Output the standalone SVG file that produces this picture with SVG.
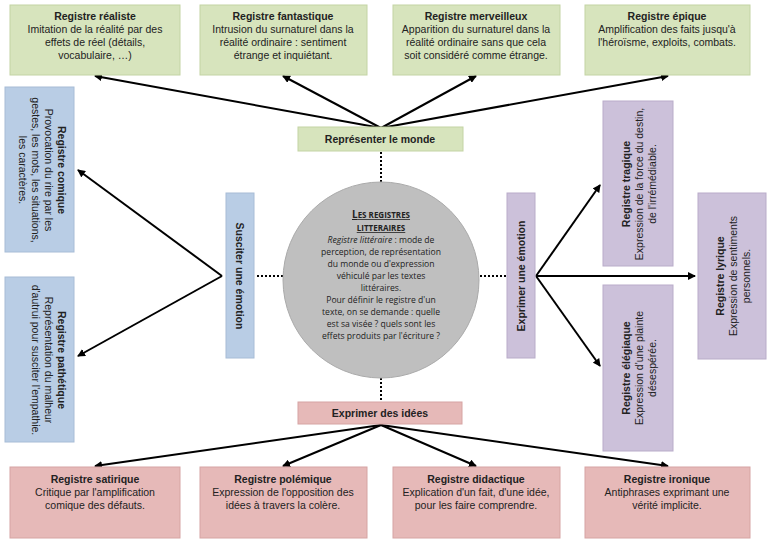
<svg xmlns="http://www.w3.org/2000/svg" width="768" height="543" viewBox="0 0 768 543">
<style>
.g{fill:#d7e4bd;stroke:#c3d4a4;stroke-width:1}
.b{fill:#b9cde5;stroke:#a7bcd6;stroke-width:1}
.p{fill:#ccc1da;stroke:#b9acc9;stroke-width:1}
.r{fill:#e6b9b8;stroke:#d6a4a3;stroke-width:1}
text{font-family:"Liberation Sans",Arial,sans-serif;font-size:10.5px;fill:#222;text-anchor:middle}
.t{font-weight:bold}
.c text{font-family:"Open Sans","Liberation Sans",sans-serif;font-size:8.6px}
.a{stroke:#000;stroke-width:2;fill:none;marker-end:url(#ah)}
.d{stroke:#000;stroke-width:2;stroke-dasharray:2 2;fill:none}
</style>
<defs><marker id="ah" markerWidth="8" markerHeight="8" refX="7" refY="4" orient="auto" markerUnits="userSpaceOnUse"><path d="M0,0L8,4L0,8z" fill="#000"/></marker></defs>
<rect width="768" height="543" fill="#fff"/>
<g id="connectors">
<path class="a" d="M381,128L95,76"/><path class="a" d="M381,128L283,76"/><path class="a" d="M381,128L476,76"/><path class="a" d="M381,128L668,76"/>
<path class="a" d="M222,276L78,170"/><path class="a" d="M222,276L78,356"/>
<path class="a" d="M536,276L600,185"/><path class="a" d="M536,276L695,276"/><path class="a" d="M536,276L600,366"/>
<path class="a" d="M381,425L95,466"/><path class="a" d="M381,425L283,466"/><path class="a" d="M381,425L476,466"/><path class="a" d="M381,425L668,466"/>
<path class="d" d="M381,182V152"/><path class="d" d="M283,276H255"/><path class="d" d="M480,276H507"/><path class="d" d="M381,378V403"/>
</g>
<g id="realiste"><rect class="g" x="10" y="5" width="170" height="70"/><text x="95" y="20" class="t">Registre réaliste</text><text x="95" y="33">Imitation de la réalité par des</text><text x="95" y="46">effets de réel (détails,</text><text x="95" y="59">vocabulaire, …)</text></g>
<g id="fantastique"><rect class="g" x="200" y="5" width="167" height="70"/><text x="283" y="20" class="t">Registre fantastique</text><text x="283" y="33">Intrusion du surnaturel dans la</text><text x="283" y="46">réalité ordinaire : sentiment</text><text x="283" y="59">étrange et inquiétant.</text></g>
<g id="merveilleux"><rect class="g" x="393" y="5" width="167" height="70"/><text x="476" y="20" class="t">Registre merveilleux</text><text x="476" y="33">Apparition du surnaturel dans la</text><text x="476" y="46">réalité ordinaire sans que cela</text><text x="476" y="59">soit considéré comme étrange.</text></g>
<g id="epique"><rect class="g" x="585" y="5" width="165" height="70"/><text x="667" y="20" class="t">Registre épique</text><text x="667" y="33">Amplification des faits jusqu'à</text><text x="667" y="46">l'héroïsme, exploits, combats.</text></g>
<g id="monde"><rect class="g" x="298" y="127" width="165" height="24"/><text x="380" y="143" class="t">Représenter le monde</text></g>
<g id="centre" class="c"><circle cx="381" cy="280" r="98" fill="#bfbfbf" stroke="#aaa"/>
<text x="381" y="218" style="font-weight:bold;font-size:10px;text-decoration:underline">L<tspan style="font-size:8px">ES REGISTRES</tspan></text>
<text x="381" y="231" style="font-weight:bold;font-size:8px;text-decoration:underline">LITTERAIRES</text>
<text x="381" y="243"><tspan font-style="italic">Registre littéraire</tspan> : mode de</text>
<text x="381" y="255">perception, de représentation</text>
<text x="381" y="267">du monde ou d'expression</text>
<text x="381" y="279">véhiculé par les textes</text>
<text x="381" y="291">littéraires.</text>
<text x="381" y="303">Pour définir le registre d'un</text>
<text x="381" y="315">texte, on se demande : quelle</text>
<text x="381" y="327">est sa visée ? quels sont les</text>
<text x="381" y="339">effets produits par l'écriture ?</text></g>
<g id="susciter"><rect class="b" x="226" y="193" width="28" height="165"/><text class="t" transform="translate(236,276) rotate(90)">Susciter une émotion</text></g>
<g id="comique"><rect class="b" x="5" y="87" width="69" height="165"/><g transform="translate(40,170) rotate(90)"><text y="-18" class="t">Registre comique</text><text y="-5">Provocation du rire par les</text><text y="8">gestes, les mots, les situations,</text><text y="21">les caractères.</text></g></g>
<g id="pathetique"><rect class="b" x="5" y="277" width="69" height="165"/><g transform="translate(40,360) rotate(90)"><text y="-18" class="t">Registre pathétique</text><text y="-5">Représentation du malheur</text><text y="8">d'autrui pour susciter l'empathie.</text></g></g>
<g id="exprimer-emotion"><rect class="p" x="507" y="193" width="28" height="165"/><text class="t" transform="translate(525,276) rotate(-90)">Exprimer une émotion</text></g>
<g id="tragique"><rect class="p" x="603" y="101" width="70" height="165"/><g transform="translate(638,184) rotate(-90)"><text y="-8" class="t">Registre tragique</text><text y="5">Expression de la force du destin,</text><text y="18">de l'irrémédiable.</text></g></g>
<g id="elegiaque"><rect class="p" x="603" y="285" width="70" height="166"/><g transform="translate(638,368) rotate(-90)"><text y="-8" class="t">Registre élégiaque</text><text y="5">Expression d'une plainte</text><text y="18">désespérée.</text></g></g>
<g id="lyrique"><rect class="p" x="698" y="193" width="68" height="166"/><g transform="translate(732,276) rotate(-90)"><text y="-8" class="t">Registre lyrique</text><text y="5">Expression de sentiments</text><text y="18">personnels.</text></g></g>
<g id="idees"><rect class="r" x="298" y="402" width="164" height="22"/><text x="380" y="417" class="t">Exprimer des idées</text></g>
<g id="satirique"><rect class="r" x="10" y="467" width="170" height="71"/><text x="95" y="483" class="t">Registre satirique</text><text x="95" y="496">Critique par l'amplification</text><text x="95" y="509">comique des défauts.</text></g>
<g id="polemique"><rect class="r" x="200" y="467" width="167" height="71"/><text x="283" y="483" class="t">Registre polémique</text><text x="283" y="496">Expression de l'opposition des</text><text x="283" y="509">idées à travers la colère.</text></g>
<g id="didactique"><rect class="r" x="393" y="467" width="167" height="71"/><text x="476" y="483" class="t">Registre didactique</text><text x="476" y="496">Explication d'un fait, d'une idée,</text><text x="476" y="509">pour les faire comprendre.</text></g>
<g id="ironique"><rect class="r" x="585" y="467" width="165" height="71"/><text x="667" y="483" class="t">Registre ironique</text><text x="667" y="496">Antiphrases exprimant une</text><text x="667" y="509">vérité implicite.</text></g>
</svg>
